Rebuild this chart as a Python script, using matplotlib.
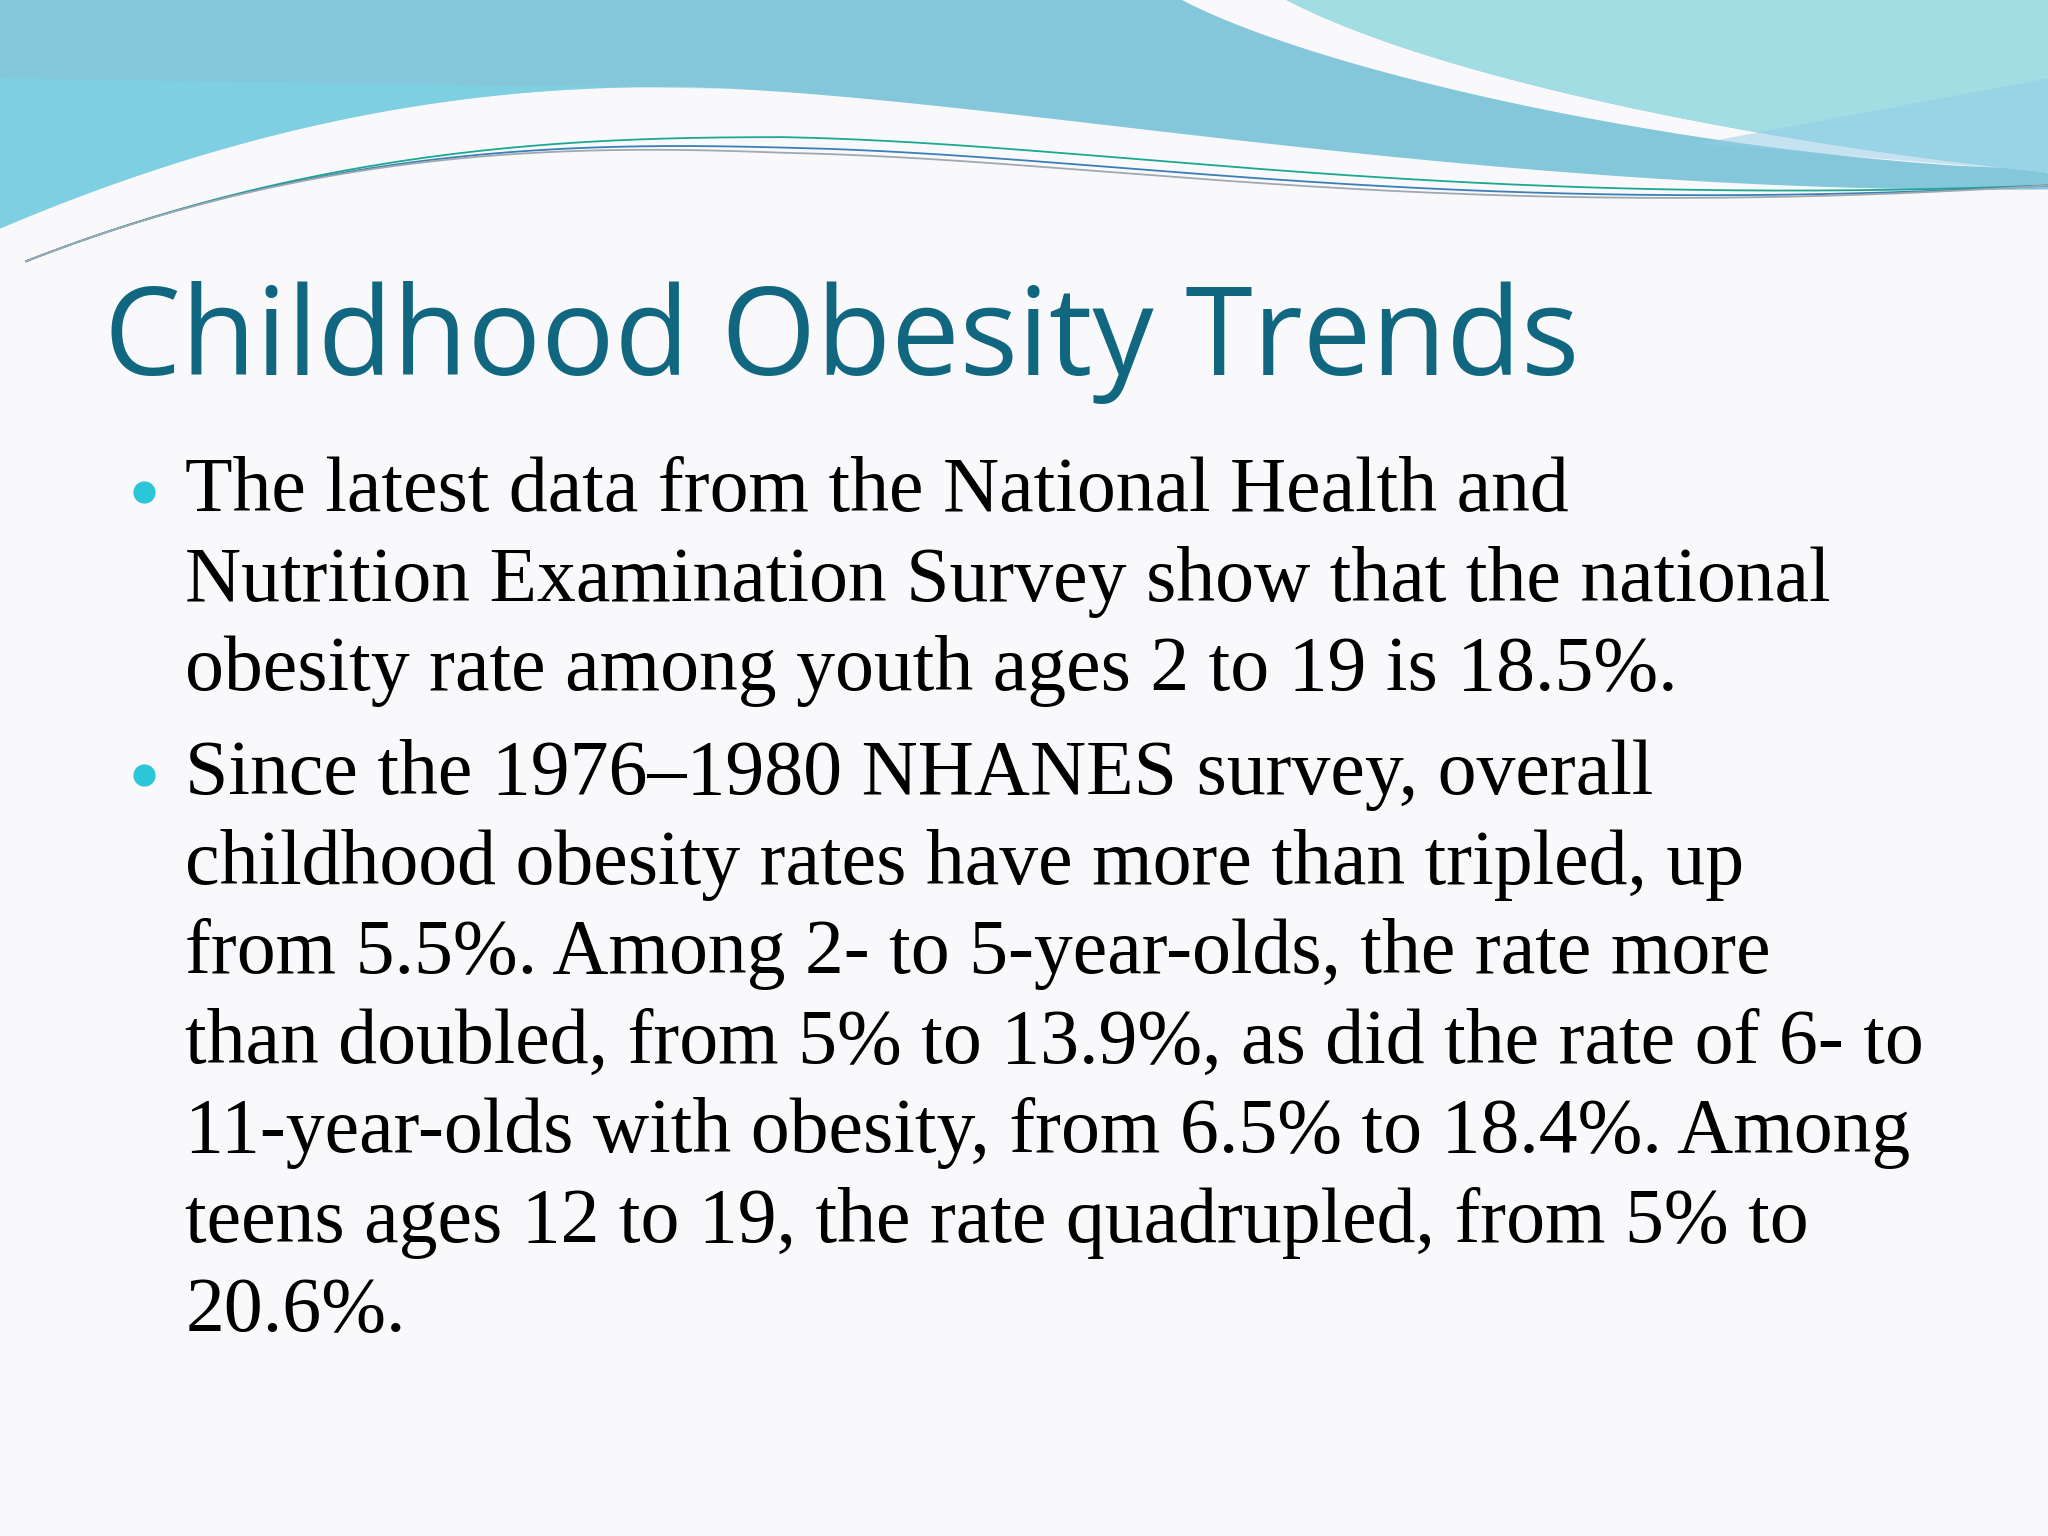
import matplotlib.pyplot as plt
import numpy as np

title = "Childhood Obesity Trends"
bullets = [
    ["The latest data from the National Health and",
     "Nutrition Examination Survey show that the national",
     "obesity rate among youth ages 2 to 19 is 18.5%."],
    ["Since the 1976\u20131980 NHANES survey, overall",
     "childhood obesity rates have more than tripled, up",
     "from 5.5%. Among 2- to 5-year-olds, the rate more",
     "than doubled, from 5% to 13.9%, as did the rate of 6- to",
     "11-year-olds with obesity, from 6.5% to 18.4%. Among",
     "teens ages 12 to 19, the rate quadrupled, from 5% to",
     "20.6%."],
]


def bez(p0, p1, p2, p3, n=200):
    t = np.linspace(0, 1, n)[:, None]
    p0, p1, p2, p3 = map(np.array, (p0, p1, p2, p3))
    pts = (1 - t) ** 3 * p0 + 3 * (1 - t) ** 2 * t * p1 + 3 * (1 - t) * t ** 2 * p2 + t ** 3 * p3
    return pts[:, 0], pts[:, 1]


bg = '#f9f9fb'
fig = plt.figure(figsize=(20.48, 15.36), dpi=100, facecolor=bg)
ax = fig.add_axes([0, 0, 1, 1])
ax.set_xlim(0, 1568)
ax.set_ylim(1176, 0)
ax.axis('off')

# top wave decoration
x1, y1 = bez((0, 175), (200, 90), (380, 60), (560, 68))
x2, y2 = bez((560, 68), (800, 80), (1150, 150), (1568, 145))
xb = np.concatenate([x1, x2])
yb = np.concatenate([y1, y2])
ax.fill(np.concatenate([[0], xb, [1568]]),
        np.concatenate([[0], yb, [0]]), color='#84c6da', lw=0)
ax.fill(np.concatenate([[0], x1, [0]]),
        np.concatenate([[60], y1, [60]]), color='#7ad8e8', lw=0, alpha=0.5)
# white sliver and light teal
xs, ys = bez((905, 0), (1000, 50), (1250, 110), (1500, 127))
xs2, ys2 = bez((985, 0), (1100, 60), (1350, 110), (1568, 132))
ax.fill(np.concatenate([xs, [1568], xs2[::-1]]), np.concatenate([ys, [130], ys2[::-1]]), color=bg, lw=0)
ax.fill(np.concatenate([xs2, [1568, 1568]]), np.concatenate([ys2, [0, 0]]), color='#a2dde4', lw=0)
ax.fill([1300, 1568, 1568], [110, 132, 60], color='#90cce6', lw=0, alpha=0.5)
# thin lines
for dy, col in [(0, '#1aa890'), (8, '#3a7fb8'), (12, '#a0a8b0')]:
    lx1, ly1 = bez((20, 200), (250, 110), (450, 105 + dy / 2), (600, 105 + dy))
    lx2, ly2 = bez((600, 105 + dy), (850, 110 + dy), (1100, 160 + dy), (1568, 142))
    ax.plot(np.concatenate([lx1, lx2]), np.concatenate([ly1, ly2]), color=col, lw=1.3)

ax.text(80, 262, title, fontsize=88, color='#11677f', family='Open Sans', va='center')

y = 377
for para in bullets:
    ax.plot(110, y, 'o', ms=15, color='#2bc6d8')
    for line in para:
        ax.text(142, y, line, fontsize=56, family='Liberation Serif', color='black', va='center')
        y += 68.5
    y += 11

fig.savefig('out.png', dpi=100, facecolor=fig.get_facecolor())
